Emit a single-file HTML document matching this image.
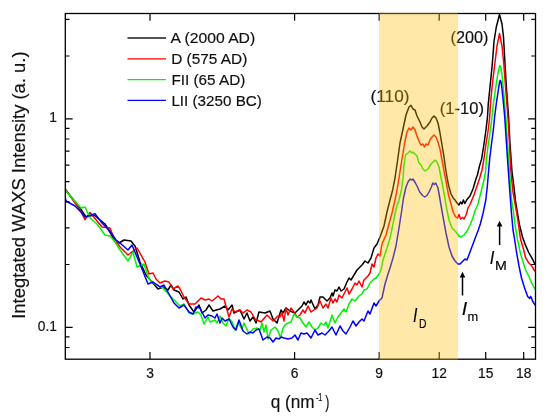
<!DOCTYPE html>
<html><head><meta charset="utf-8"><title>WAXS</title>
<style>
html,body{margin:0;padding:0;background:#fff;}
body{width:550px;height:417px;overflow:hidden;}
svg{display:block;font-family:"Liberation Sans",Arial,sans-serif;}
text{stroke:#111;stroke-width:0.18px;}
.c{fill:none;stroke-width:1.5;stroke-linejoin:round;stroke-linecap:round;}
</style></head><body>
<svg width="550" height="417" viewBox="0 0 550 417">
<rect width="550" height="417" fill="#fff"/>
<clipPath id="cp"><rect x="65.3" y="13.5" width="470.2" height="345.7"/></clipPath>
<g clip-path="url(#cp)">
<path class="c" stroke="#000" d="M65.0,189.0 L80.0,208.0 L86.0,217.0 L94.0,215.0 L105.0,224.0 L114.0,239.0 L119.0,243.0 L124.0,240.0 L131.0,241.0 L135.0,246.0 L140.0,262.0 L146.0,275.0 L152.0,282.0 L158.0,289.0 L163.0,287.0 L168.0,290.0 L171.0,285.0 L174.0,290.0 L179.0,292.0 L183.0,299.0 L186.0,297.0 L189.0,305.0 L194.0,312.0 L199.0,305.0 L202.0,313.0 L206.0,310.0 L209.0,305.0 L213.0,311.0 L220.0,309.0 L225.0,306.0 L228.0,310.0 L232.0,305.0 L234.0,313.0 L240.0,310.0 L244.0,319.0 L247.0,313.0 L250.0,321.0 L253.0,317.0 L256.0,323.0 L259.0,312.0 L265.0,313.0 L270.0,311.0 L273.0,319.0 L277.0,323.0 L281.0,310.0 L283.0,313.0 L286.0,308.0 L290.0,311.0 L295.0,313.0 L299.0,309.0 L302.0,306.0 L304.0,302.0 L306.0,305.0 L308.0,301.0 L310.0,303.0 L311.0,300.0 L315.0,309.0 L318.0,305.0 L320.0,297.0 L323.0,297.0 L327.0,301.0 L330.0,298.0 L332.0,293.0 L333.0,296.0 L335.0,290.0 L337.0,291.0 L339.0,287.0 L341.0,291.0 L344.0,289.0 L347.0,282.0 L349.0,278.0 L351.0,280.0 L354.0,275.0 L357.0,270.0 L359.0,268.0 L362.0,265.0 L365.0,261.0 L368.0,263.0 L371.0,258.0 L374.0,248.0 L377.0,244.0 L380.0,237.0 L384.0,226.0 L387.0,212.0 L390.0,200.0 L392.7,190.0 L395.0,178.0 L397.5,161.0 L400.0,143.0 L403.0,129.0 L406.0,115.0 L409.0,107.0 L411.0,105.4 L413.0,109.0 L415.0,110.0 L417.0,116.0 L420.0,122.0 L422.0,127.0 L424.0,129.0 L427.0,126.0 L430.0,122.0 L432.0,118.0 L434.0,116.0 L436.0,118.0 L438.0,123.0 L440.0,133.0 L442.0,145.0 L444.0,157.0 L445.5,168.0 L447.5,180.0 L449.0,187.0 L451.0,194.0 L453.0,197.7 L455.4,200.6 L457.5,203.5 L459.0,205.0 L460.5,202.0 L462.0,204.0 L463.4,200.0 L464.8,203.5 L467.0,199.5 L470.0,196.0 L473.0,189.0 L476.0,178.7 L477.4,175.0 L479.5,166.0 L481.7,158.6 L484.0,144.0 L486.0,129.5 L487.5,117.0 L488.3,103.6 L490.5,82.0 L492.3,64.0 L494.0,41.5 L496.3,27.0 L499.5,14.5 L502.0,24.0 L503.5,37.0 L505.0,64.0 L506.5,89.0 L508.6,117.0 L510.0,144.0 L512.0,172.0 L513.7,184.5 L515.5,201.0 L517.5,213.0 L519.5,225.0 L522.5,237.0 L525.6,245.4 L528.7,252.5 L531.7,257.7 L534.8,263.8"/>
<path class="c" stroke="#f00" d="M65.0,189.0 L80.0,210.0 L85.0,219.6 L90.0,212.4 L97.0,221.0 L102.0,227.0 L110.0,228.0 L114.0,238.0 L120.0,247.0 L128.0,255.0 L137.0,248.0 L145.0,262.0 L149.0,274.0 L153.0,273.0 L156.0,279.0 L160.0,283.0 L165.0,281.0 L169.0,282.0 L173.0,289.0 L178.0,286.0 L180.0,289.0 L184.0,297.0 L189.0,304.0 L195.0,304.0 L201.0,298.0 L205.0,300.0 L209.0,299.0 L212.0,301.0 L218.0,296.0 L221.0,299.0 L224.0,299.0 L229.0,317.0 L232.0,309.0 L235.0,312.0 L240.0,310.0 L243.0,313.0 L247.0,310.0 L251.0,312.0 L255.0,319.0 L261.0,322.0 L267.0,315.0 L273.0,321.0 L278.0,316.0 L280.0,317.0 L282.0,313.0 L284.0,321.0 L286.0,308.0 L288.0,315.0 L291.0,308.0 L294.0,312.0 L297.0,317.0 L300.0,315.0 L303.0,310.0 L305.0,313.0 L308.0,306.0 L311.0,312.0 L314.0,310.0 L317.0,308.0 L320.0,301.0 L323.0,308.0 L326.0,304.0 L328.0,308.0 L331.0,298.0 L333.0,303.0 L335.0,299.0 L337.0,302.0 L339.0,295.0 L342.0,298.0 L344.0,294.0 L347.0,288.0 L349.0,294.0 L352.0,289.0 L355.0,283.0 L357.0,285.0 L359.0,281.0 L362.0,287.0 L364.0,280.0 L368.0,276.0 L370.0,273.0 L372.0,264.0 L374.0,267.0 L376.0,258.0 L378.0,254.0 L380.0,256.0 L382.0,244.0 L386.0,235.0 L389.0,224.0 L392.0,213.0 L395.0,200.0 L397.0,190.0 L399.0,178.0 L401.0,165.0 L403.0,153.0 L405.0,141.0 L407.0,132.0 L409.0,128.0 L411.0,130.0 L413.0,127.0 L415.0,130.0 L417.0,136.0 L419.0,141.0 L421.0,145.0 L423.0,144.0 L424.4,147.0 L426.0,144.0 L428.0,145.0 L430.0,140.0 L432.0,137.0 L434.0,135.0 L436.0,137.0 L438.0,142.0 L440.0,149.0 L442.0,160.0 L444.0,171.0 L446.0,181.0 L448.5,195.0 L451.0,204.0 L453.0,211.5 L455.4,216.6 L457.5,218.0 L459.0,214.5 L460.5,219.0 L462.6,217.4 L464.0,219.0 L466.3,214.5 L468.0,208.0 L470.0,204.5 L472.3,199.0 L474.0,195.0 L476.0,189.0 L479.5,178.7 L482.0,170.0 L484.0,158.6 L486.0,144.0 L488.3,129.5 L489.7,117.0 L490.5,103.6 L492.6,82.0 L494.8,64.0 L497.0,46.0 L499.5,33.5 L502.0,46.0 L503.8,64.0 L505.7,89.0 L508.0,118.0 L509.5,144.0 L510.7,170.0 L513.0,192.0 L516.0,209.0 L518.0,221.0 L520.5,239.0 L523.6,249.5 L525.6,257.7 L528.7,262.8 L531.7,265.8 L534.8,271.0"/>
<path class="c" stroke="#00f400" d="M65.0,190.0 L81.0,208.0 L85.0,207.0 L90.0,218.0 L97.0,224.0 L105.0,235.0 L110.0,236.0 L115.0,242.0 L120.0,250.0 L128.0,261.0 L133.0,252.0 L137.0,267.0 L144.0,264.0 L149.0,279.0 L155.0,284.0 L163.0,288.0 L170.0,296.0 L176.0,302.0 L180.0,306.0 L184.0,304.0 L189.0,313.0 L193.0,314.0 L198.0,312.0 L201.0,315.0 L204.0,324.0 L208.0,317.0 L210.0,322.0 L215.0,320.0 L217.0,323.0 L220.0,316.0 L223.0,323.0 L226.0,326.0 L229.0,318.0 L232.0,322.0 L235.0,330.0 L238.0,323.0 L242.0,329.0 L244.0,323.0 L249.0,334.0 L253.0,329.0 L257.0,328.0 L260.0,330.0 L262.0,323.0 L264.0,332.0 L266.0,325.0 L268.0,339.0 L271.0,330.0 L275.0,327.0 L278.0,331.0 L280.5,338.0 L283.0,328.0 L286.0,324.0 L291.0,322.0 L294.0,314.0 L297.0,317.0 L300.0,318.0 L303.0,323.0 L306.0,327.0 L309.0,322.0 L312.0,327.0 L315.0,330.0 L318.0,328.0 L321.0,323.0 L324.0,325.0 L326.0,322.0 L328.0,328.0 L332.0,315.0 L335.0,323.0 L338.0,317.0 L341.0,313.0 L344.0,309.0 L346.0,312.0 L349.0,304.0 L352.0,299.0 L355.0,301.0 L359.0,296.0 L362.0,294.0 L364.0,290.0 L367.0,289.0 L370.0,283.0 L372.0,281.0 L374.0,279.0 L376.0,278.0 L379.0,274.0 L381.0,270.0 L383.0,260.0 L387.0,248.0 L390.0,238.0 L393.0,224.0 L396.0,209.0 L399.0,200.0 L401.5,190.0 L403.0,178.0 L404.0,165.0 L405.5,155.0 L408.0,153.0 L410.0,151.0 L412.0,153.0 L413.0,152.0 L415.0,154.0 L417.0,156.0 L419.0,163.0 L421.0,165.0 L423.0,169.0 L425.0,171.0 L428.0,169.0 L431.0,164.0 L433.0,162.0 L435.0,160.0 L437.0,162.0 L439.0,167.0 L440.5,175.0 L442.0,182.5 L444.5,196.0 L446.5,208.0 L449.0,220.0 L452.0,228.0 L456.0,232.0 L459.0,236.0 L461.0,237.0 L464.0,235.0 L467.0,231.0 L470.0,225.0 L472.5,219.0 L475.0,211.0 L478.0,204.0 L481.0,192.0 L484.0,180.0 L485.5,172.0 L486.5,158.6 L488.3,144.0 L490.5,129.5 L492.0,117.0 L493.4,103.6 L495.5,89.0 L497.7,74.5 L499.3,67.0 L500.0,65.5 L500.7,67.0 L502.0,74.5 L504.0,96.0 L506.0,120.0 L507.5,144.0 L509.4,170.0 L511.5,199.0 L513.7,213.6 L515.2,226.0 L517.4,239.0 L520.5,253.6 L523.6,263.8 L525.6,270.0 L528.7,276.0 L531.7,283.0 L534.8,289.0"/>
<path class="c" stroke="#00f" d="M65.0,197.0 L66.0,201.0 L75.0,206.0 L81.0,212.0 L85.0,217.0 L95.0,213.6 L102.0,223.0 L109.0,230.0 L116.0,240.0 L120.0,243.0 L128.0,250.0 L132.0,245.0 L140.0,264.0 L148.0,284.0 L153.0,282.0 L160.0,287.0 L164.0,285.0 L169.0,294.0 L174.0,303.0 L179.0,308.0 L184.0,305.0 L189.0,312.0 L193.0,314.0 L196.0,307.0 L200.0,308.0 L205.0,318.0 L208.0,315.0 L212.0,316.0 L215.0,318.0 L217.0,314.0 L220.0,323.0 L222.0,318.0 L225.0,321.0 L229.0,319.0 L233.0,327.0 L236.0,330.0 L239.0,320.0 L243.0,331.0 L247.0,334.0 L250.0,332.0 L253.0,333.0 L256.0,330.0 L259.0,329.0 L263.0,340.0 L267.0,337.0 L270.0,338.0 L273.0,342.0 L276.0,338.0 L279.0,339.0 L281.0,337.0 L284.0,338.0 L288.0,339.0 L292.0,338.0 L295.0,335.0 L298.0,340.0 L301.0,333.0 L304.0,334.0 L307.0,333.0 L311.0,338.0 L315.0,330.0 L318.0,335.0 L322.0,333.0 L325.0,335.0 L328.0,332.0 L332.0,327.0 L336.0,335.0 L340.0,326.0 L343.0,331.0 L346.0,334.0 L350.0,327.0 L353.0,321.0 L356.0,326.0 L359.0,322.0 L362.0,319.0 L364.0,321.0 L368.0,311.0 L370.0,314.0 L374.0,303.0 L376.0,306.0 L379.0,301.0 L382.0,298.0 L385.0,284.0 L388.0,274.0 L390.0,268.0 L393.0,258.0 L396.0,246.0 L399.0,228.0 L401.5,212.0 L403.5,198.0 L406.0,187.0 L408.0,182.0 L410.3,179.0 L411.7,180.0 L413.0,179.0 L415.4,183.0 L417.5,187.0 L419.7,192.0 L422.6,195.5 L424.8,197.0 L427.0,195.5 L429.0,192.0 L431.4,187.0 L432.8,183.0 L434.3,184.6 L435.7,183.0 L438.0,188.0 L439.6,197.0 L441.3,207.0 L443.4,219.0 L446.0,233.0 L449.0,247.0 L452.0,256.0 L455.0,261.0 L458.0,264.0 L460.0,264.0 L463.0,261.0 L465.0,259.0 L467.0,260.0 L470.0,252.0 L473.0,244.0 L476.0,236.0 L478.7,229.0 L480.3,224.0 L483.0,213.6 L485.8,200.0 L487.5,184.5 L488.5,172.0 L489.7,158.6 L491.5,144.0 L493.4,129.5 L494.6,117.0 L496.3,103.6 L498.5,89.0 L499.6,82.0 L500.3,80.4 L501.0,82.0 L502.0,89.0 L503.5,103.6 L504.8,118.0 L506.5,144.0 L508.4,172.0 L510.0,194.0 L511.5,213.6 L513.0,230.0 L514.4,238.0 L516.4,251.5 L519.0,266.0 L521.5,278.0 L524.6,288.0 L527.7,296.4 L529.7,298.5 L530.7,296.4 L532.8,301.5 L534.8,304.6"/>
</g>
<g fill="none" stroke-width="1.3">
<path stroke="#1a1a1a" d="M127.5,38 H166"/><path stroke="#f00" d="M127.5,58.8 H166"/><path stroke="#00f400" d="M127.5,79.6 H166"/><path stroke="#00f" d="M127.5,100.4 H166"/>
</g>
<text transform="translate(170.50,43.40) scale(1.0211,1)" font-size="15.4px" fill="#111">A (2000 AD)</text>
<text transform="translate(171.20,64.30) scale(1.0001,1)" font-size="15.4px" fill="#111">D (575 AD)</text>
<text transform="translate(171.40,85.10) scale(0.9938,1)" font-size="15.4px" fill="#111">FII (65 AD)</text>
<text transform="translate(171.40,106.00) scale(0.9892,1)" font-size="15.4px" fill="#111">LII (3250 BC)</text>
<text transform="translate(370.60,102.20) scale(1.0125,1)" font-size="17px" fill="#111">(110)</text>
<text transform="translate(439.80,114.30) scale(0.9747,1)" font-size="17px" fill="#111">(1-10)</text>
<text transform="translate(450.60,43.00) scale(0.9548,1)" font-size="17px" fill="#111">(200)</text>
<rect x="65.3" y="13.5" width="470.2" height="345.7" fill="none" stroke="#000" stroke-width="1.3"/>
<path d="M150.0,359.2 v-7.3 M150.0,13.5 v7.3 M294.6,359.2 v-7.3 M294.6,13.5 v7.3 M379.2,359.2 v-7.3 M379.2,13.5 v7.3 M439.2,359.2 v-7.3 M439.2,13.5 v7.3 M485.7,359.2 v-7.3 M485.7,13.5 v7.3 M523.7,359.2 v-7.3 M523.7,13.5 v7.3 M65.3,19.3 h4.2 M535.5,19.3 h-4.2 M65.3,56.0 h4.2 M535.5,56.0 h-4.2 M65.3,118.8 h7.3 M535.5,118.8 h-7.3 M65.3,128.3 h4.2 M535.5,128.3 h-4.2 M65.3,139.0 h4.2 M535.5,139.0 h-4.2 M65.3,151.1 h4.2 M535.5,151.1 h-4.2 M65.3,165.1 h4.2 M535.5,165.1 h-4.2 M65.3,181.6 h4.2 M535.5,181.6 h-4.2 M65.3,201.8 h4.2 M535.5,201.8 h-4.2 M65.3,227.8 h4.2 M535.5,227.8 h-4.2 M65.3,264.5 h4.2 M535.5,264.5 h-4.2 M65.3,327.3 h7.3 M535.5,327.3 h-7.3 M65.3,336.8 h4.2 M535.5,336.8 h-4.2 M65.3,347.5 h4.2 M535.5,347.5 h-4.2" stroke="#000" stroke-width="1.2" fill="none"/>
<rect x="379" y="12.9" width="79" height="346.9" fill="rgba(255,188,0,0.34)"/>
<g font-size="13.8px" fill="#111" stroke-width="0.05"><text x="150.0" y="377.6" text-anchor="middle">3</text><text x="294.6" y="377.6" text-anchor="middle">6</text><text x="379.2" y="377.6" text-anchor="middle">9</text><text x="439.2" y="377.6" text-anchor="middle">12</text><text x="485.7" y="377.6" text-anchor="middle">15</text><text x="523.7" y="377.6" text-anchor="middle">18</text>
<text x="57" y="122.3" text-anchor="end">1</text>
<text x="57" y="331" text-anchor="end">0.1</text>
</g>
<text transform="translate(270.70,407.70) scale(0.9546,1)" font-size="18px" fill="#111">q (nm</text>
<text transform="translate(315.90,400.80) scale(0.6448,1)" font-size="11.5px" fill="#111">-1</text>
<text transform="translate(325.20,407.70) scale(0.6850,1)" font-size="18px" fill="#111">)</text>
<text transform="translate(24.60,318.80) rotate(-90) scale(1.0468,1)" font-size="17.6px" fill="#111">Integtated WAXS Intensity (a. u.)</text>
<g stroke="#000" stroke-width="1.5" fill="#000">
<path d="M499.6,245 V225"/><path d="M499.6,220.8 l2.8,5.8 h-5.6z" stroke="none"/>
<path d="M462.5,295.5 V276"/><path d="M462.5,271.8 l2.8,5.8 h-5.6z" stroke="none"/>
</g>
<text transform="translate(413.00,321.70) scale(0.7928,1)" font-size="20px" fill="#000" font-style="italic">I</text>
<text transform="translate(418.90,327.70) scale(0.8440,1)" font-size="12.3px" fill="#000">D</text>
<text transform="translate(461.80,315.30) scale(1.0634,1)" font-size="18.3px" fill="#000" font-style="italic">I</text>
<text transform="translate(467.60,321.00) scale(1.0449,1)" font-size="12.3px" fill="#000">m</text>
<text transform="translate(489.80,264.00) scale(0.9058,1)" font-size="18.3px" fill="#000" font-style="italic">I</text>
<text transform="translate(495.10,270.40) scale(1.1249,1)" font-size="12.6px" fill="#000">M</text>
</svg>
</body></html>
